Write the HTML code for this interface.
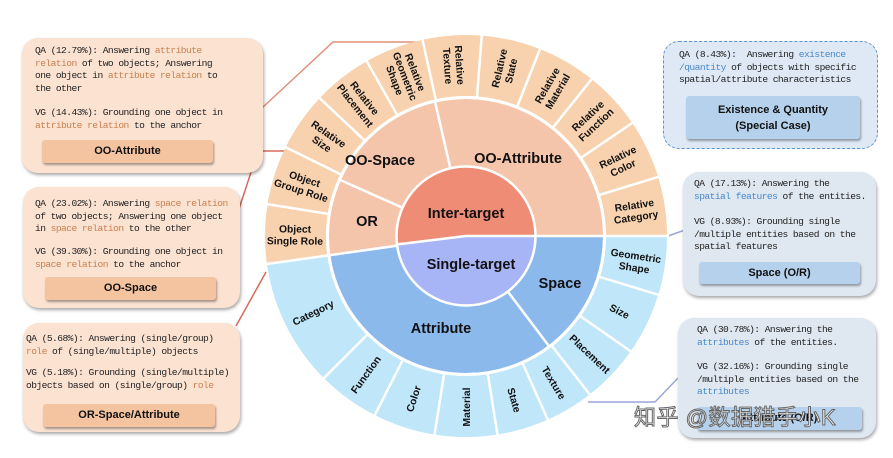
<!DOCTYPE html>
<html><head><meta charset="utf-8"><style>
body{margin:0;background:#fff;}
#w{position:relative;width:893px;height:458px;overflow:hidden;background:#fff;font-family:"Liberation Sans",sans-serif;}
.box{position:absolute;border-radius:16px;box-sizing:border-box;}
.o{background:#fbe2d1;box-shadow:1px 2px 3px rgba(0,0,0,0.35);}
.b{background:#dfe7f1;box-shadow:1px 2px 3px rgba(0,0,0,0.35);}
.t{position:absolute;font-family:"Liberation Mono",monospace;font-size:9.6px;letter-spacing:-0.55px;line-height:12.5px;color:#222;white-space:pre;}
.ro{color:#c9804f}.bl{color:#4a88c8}
.btn{position:absolute;font-weight:bold;font-size:11px;color:#111;text-align:center;border-radius:3px;box-shadow:1px 2px 2px rgba(0,0,0,0.35);}
.bo{background:#f4c3a0}.bb{background:#b5d1ec}
svg{position:absolute;left:0;top:0}
</style></head><body><div id="w">
<svg width="893" height="458" font-family="Liberation Sans, sans-serif" font-weight="bold">
<polyline points="262,108 333,42 424,42" fill="none" stroke="#e0907a" stroke-width="1.5"/>
<polyline points="236,218 258,151 284,151" fill="none" stroke="#d86a5a" stroke-width="1.5"/>
<polyline points="236,326 266,272" fill="none" stroke="#d86a5a" stroke-width="1.5"/>
<polyline points="668,236 685,230" fill="none" stroke="#9aa6dc" stroke-width="1.5"/>
<polyline points="588,402 655,402 678,378" fill="none" stroke="#9aa6dc" stroke-width="1.5"/>
<g transform="translate(466,236)">
<circle r="170.5" fill="none" stroke="#f8d2ae" stroke-width="61" pathLength="360" stroke-dasharray="188 172" transform="rotate(-188)"/>
<circle r="170.5" fill="none" stroke="#bfe6f9" stroke-width="61" pathLength="360" stroke-dasharray="172 188" transform="rotate(0)"/>
<circle r="103.5" fill="none" stroke="#f5c5ab" stroke-width="67" pathLength="360" stroke-dasharray="188 172" transform="rotate(-188)"/>
<circle r="103.5" fill="none" stroke="#8cb9ec" stroke-width="67" pathLength="360" stroke-dasharray="172 188" transform="rotate(0)"/>
<circle r="34.5" fill="none" stroke="#ef8c75" stroke-width="69" pathLength="360" stroke-dasharray="187 173" transform="rotate(-187)"/>
<circle r="34.5" fill="none" stroke="#a7b4f6" stroke-width="69" pathLength="360" stroke-dasharray="173 187" transform="rotate(0)"/>
<circle r="69.5" fill="none" stroke="#fff" stroke-width="2.5"/>
<circle r="138.5" fill="none" stroke="#fff" stroke-width="3"/>
<g stroke="#fff" stroke-width="2.5">
<line x1="0" x2="69" transform="rotate(0)"/>
<line x1="0" x2="69" transform="rotate(-187)"/>
<line x1="69" x2="138" transform="rotate(0)"/>
<line x1="69" x2="138" transform="rotate(-103)"/>
<line x1="69" x2="138" transform="rotate(-156)"/>
<line x1="69" x2="138" transform="rotate(-188)"/>
<line x1="69" x2="138" transform="rotate(-307)"/>
<line x1="139" x2="203" transform="rotate(0)"/>
<line x1="139" x2="203" transform="rotate(-17.1)"/>
<line x1="139" x2="203" transform="rotate(-34.2)"/>
<line x1="139" x2="203" transform="rotate(-51.3)"/>
<line x1="139" x2="203" transform="rotate(-68.4)"/>
<line x1="139" x2="203" transform="rotate(-85.5)"/>
<line x1="139" x2="203" transform="rotate(-102.5)"/>
<line x1="139" x2="203" transform="rotate(-119.6)"/>
<line x1="139" x2="203" transform="rotate(-136.7)"/>
<line x1="139" x2="203" transform="rotate(-153.8)"/>
<line x1="139" x2="203" transform="rotate(-170.9)"/>
<line x1="139" x2="203" transform="rotate(-188)"/>
<line x1="139" x2="203" transform="rotate(-225)"/>
<line x1="139" x2="203" transform="rotate(-243)"/>
<line x1="139" x2="203" transform="rotate(-261)"/>
<line x1="139" x2="203" transform="rotate(-279)"/>
<line x1="139" x2="203" transform="rotate(-294)"/>
<line x1="139" x2="203" transform="rotate(-308)"/>
<line x1="139" x2="203" transform="rotate(-325)"/>
<line x1="139" x2="203" transform="rotate(-343)"/>
</g>
<g font-size="14.5" fill="#111" text-anchor="middle">
<text x="0" y="-18">Inter-target</text>
<text x="5" y="33">Single-target</text>
<text x="-86" y="-71">OO-Space</text>
<text x="52" y="-73">OO-Attribute</text>
<text x="-99" y="-10">OR</text>
<text x="-25" y="97">Attribute</text>
<text x="94" y="52">Space</text>
</g>
<g font-size="10.3" fill="#111" text-anchor="middle">
<g transform="rotate(-8.5) translate(171,0)"><text y="-2">Relative</text><text y="10">Category</text></g>
<g transform="rotate(-25.6) translate(171,0)"><text y="-2">Relative</text><text y="10">Color</text></g>
<g transform="rotate(-42.7) translate(171,0)"><text y="-2">Relative</text><text y="10">Function</text></g>
<g transform="rotate(-59.8) translate(171,0)"><text y="-2">Relative</text><text y="10">Material</text></g>
<g transform="rotate(-76.9) translate(171,0)"><text y="-2">Relative</text><text y="10">State</text></g>
<g transform="rotate(-94) translate(171,0) rotate(180)"><text y="-2">Relative</text><text y="10">Texture</text></g>
<g transform="rotate(-111.1) translate(171,0) rotate(180)"><text y="-8">Relative</text><text y="3">Geometric</text><text y="14">Shape</text></g>
<g transform="rotate(-128.2) translate(171,0) rotate(180)"><text y="-2">Relative</text><text y="10">Placement</text></g>
<g transform="rotate(-145.3) translate(171,0) rotate(180)"><text y="-2">Relative</text><text y="10">Size</text></g>
<g transform="rotate(-162.4) translate(171,0) rotate(180)"><text y="-2">Object</text><text y="10">Group Role</text></g>
<g transform="rotate(-179.5) translate(171,0) rotate(180)"><text y="-2">Object</text><text y="10">Single Role</text></g>
<g transform="rotate(-206.5) translate(171,0) rotate(180)"><text y="4">Category</text></g>
<g transform="rotate(-234) translate(171,0) rotate(180)"><text y="4">Function</text></g>
<g transform="rotate(-252) translate(171,0) rotate(180)"><text y="4">Color</text></g>
<g transform="rotate(-270) translate(171,0) rotate(180)"><text y="4">Material</text></g>
<g transform="rotate(-286.5) translate(171,0)"><text y="4">State</text></g>
<g transform="rotate(-301) translate(171,0)"><text y="4">Texture</text></g>
<g transform="rotate(-316.5) translate(171,0)"><text y="4">Placement</text></g>
<g transform="rotate(-334) translate(171,0)"><text y="4">Size</text></g>
<g transform="rotate(-351.5) translate(171,0)"><text y="-2">Geometric</text><text y="10">Shape</text></g>
</g>
</g>
</svg>

<div class="box o" style="left:22px;top:38px;width:241px;height:135px"></div>
<div class="t" style="left:35px;top:45px">QA (12.79%): Answering <span class="ro">attribute</span>
<span class="ro">relation</span> of two objects; Answering
one object in <span class="ro">attribute relation</span> to
the other</div>
<div class="t" style="left:35px;top:107px">VG (14.43%): Grounding one object in
<span class="ro">attribute relation</span> to the anchor</div>
<div class="btn bo" style="left:42px;top:140px;width:171px;height:23px;line-height:23px">OO-Attribute</div>

<div class="box o" style="left:23px;top:187px;width:217px;height:121px"></div>
<div class="t" style="left:35px;top:198px">QA (23.02%): Answering <span class="ro">space relation</span>
of two objects; Answering one object
in <span class="ro">space relation</span> to the other</div>
<div class="t" style="left:35px;top:246px">VG (39.30%): Grounding one object in
<span class="ro">space relation</span> to the anchor</div>
<div class="btn bo" style="left:45px;top:277px;width:171px;height:23px;line-height:23px">OO-Space</div>

<div class="box o" style="left:23px;top:323px;width:217px;height:109px"></div>
<div class="t" style="left:26px;top:333px">QA (5.68%): Answering (single/group)
<span class="ro">role</span> of (single/multiple) objects</div>
<div class="t" style="left:26px;top:367px">VG (5.18%): Grounding (single/multiple)
objects based on (single/group) <span class="ro">role</span></div>
<div class="btn bo" style="left:43px;top:404px;width:172px;height:23px;line-height:23px">OR-Space/Attribute</div>

<div class="box" style="left:663px;top:41px;width:215px;height:108px;background:#dee9f5;border:1.5px dashed #5f93cf"></div>
<div class="t" style="left:679px;top:49px">QA (8.43%):  Answering <span class="bl">existence</span>
<span class="bl">/quantity</span> of objects with specific
spatial/attribute characteristics</div>
<div class="btn bb" style="left:686px;top:96px;width:174px;height:43px;line-height:16px;padding-top:6px;box-sizing:border-box">Existence &amp; Quantity<br>(Special Case)</div>

<div class="box b" style="left:683px;top:172px;width:193px;height:124px"></div>
<div class="t" style="left:694px;top:178px">QA (17.13%): Answering the
<span class="bl">spatial features</span> of the entities.</div>
<div class="t" style="left:694px;top:216px">VG (8.93%): Grounding single
/multiple entities based on the
spatial features</div>
<div class="btn bb" style="left:699px;top:262px;width:161px;height:22px;line-height:22px">Space (O/R)</div>

<div class="box b" style="left:678px;top:318px;width:198px;height:120px"></div>
<div class="t" style="left:697px;top:324px">QA (30.78%): Answering the
<span class="bl">attributes</span> of the entities.</div>
<div class="t" style="left:697px;top:361px">VG (32.16%): Grounding single
/multiple entities based on the
<span class="bl">attributes</span></div>
<div class="btn bb" style="left:697px;top:407px;width:165px;height:23px;line-height:23px">Attribute (O/R)</div>

<div style="position:absolute;left:634px;top:400px;font-family:'Liberation Sans','Noto Sans CJK SC',sans-serif;font-size:22px;color:#fff;-webkit-text-stroke:1px #666;white-space:nowrap;letter-spacing:0.5px">知乎 @数据猎手小K</div>
</div></body></html>
